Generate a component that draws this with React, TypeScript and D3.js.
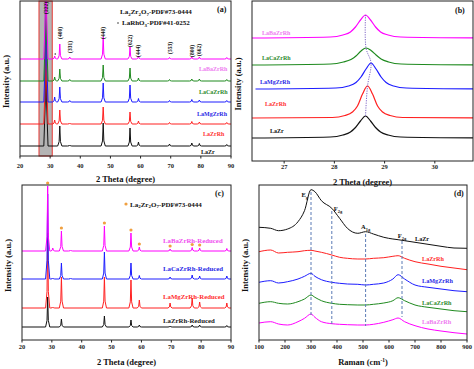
import React from 'react';
import * as d3 from 'd3';

const FONT = '"Liberation Serif", "Times New Roman", serif';

// ---- panel (a): XRD, fresh catalysts ----
const xrdPeaksA = [28.6, 31.5, 33.2, 36.5, 47.6, 56.5, 59.3, 69.6, 77.0, 79.5, 88.6];
const namesA = ['LaZr', 'LaZrRh', 'LaMgZrRh', 'LaCaZrRh', 'LaBaZrRh'];
const offsetsA = [10, 32, 54, 75, 97];
const heightsA = [
  [200, 0, 20, 1, 23, 18, 4, 2, 3, 2.5, 1.5],
  [200, 4, 14, 1, 17, 12, 3, 1.5, 2.5, 2, 1.5],
  [200, 5, 15, 1.5, 19, 17, 3.5, 1.5, 2.5, 2, 1.5],
  [200, 4, 12, 1.5, 16, 13, 3, 1.5, 2, 2, 1.5],
  [200, 3, 15, 2, 22, 12, 3, 1.5, 2, 2, 1.5],
];
const hklLabels = ['(222)', '(400)', '(331)', '(440)', '(622)', '(444)', '(553)', '(800)', '(662)'];
const hklPositions = [28.6, 33.2, 36.5, 47.6, 56.5, 59.3, 69.6, 77.0, 79.5];

// ---- panel (b): zoom on (222) ----
const namesB = ['LaZr', 'LaZrRh', 'LaMgZrRh', 'LaCaZrRh', 'LaBaZrRh'];
const centersB = [28.62, 28.66, 28.73, 28.63, 28.62];
const offsetsB = [23, 43, 72, 96, 123];
const dxB = [-2.3, -0.7, -0.45, -0.3, -0.2, -0.1, 0, 0.1, 0.2, 0.3, 0.45, 0.7, 2.3];
const profilesB = [
  [0, 1, 3, 6, 10.5, 17, 22, 17, 10.5, 6, 3, 1, 0],
  [0, 0.5, 2.5, 6, 12, 24, 32, 24, 12, 6, 2.5, 0.5, 0],
  [0, 1, 3, 6.5, 12, 20, 26, 20, 12, 6.5, 3, 1, 0],
  [0, 1, 3, 5.5, 9, 14, 17, 14.5, 10, 6, 3, 1, 0],
  [0, 1, 3, 6, 11, 18, 23, 18, 11, 6, 3, 1, 0],
];

// ---- panel (c): XRD, reduced ----
const xrdPeaksC = [28.6, 30.3, 33.2, 36.3, 47.6, 56.5, 59.3, 69.6, 77.0, 79.5, 88.6];
const namesC = ['LaZrRh-Reduced', 'LaMgZrRh-Reduced', 'LaCaZrRh-Reduced', 'LaBaZrRh-Reduced'];
const offsetsC = [13, 32, 61, 89];
const heightsC = [
  [30, 0, 8, 0, 11, 7, 2, 1, 2, 2, 1.5],
  [75, 1, 31, 0, 31, 28, 8, 5, 10, 6, 5],
  [85, 1, 16, 1, 27, 16, 3.5, 2, 4, 3, 3],
  [65, 3, 20, 1, 25, 18, 4, 2, 3.5, 3, 2.5],
];
const starPeaksC = [28.6, 33.2, 47.6, 56.5, 59.3, 69.6, 77.0, 79.5];

// ---- panel (d): Raman ----
const ramanShift = [100, 145, 175, 210, 250, 275, 300, 315, 340, 380, 410, 440, 480, 510, 540, 580, 615, 635, 660, 700, 750, 800, 850, 900];
const namesD = ['LaZr', 'LaZrRh', 'LaMgZrRh', 'LaCaZrRh', 'LaBaZrRh'];
const ramanD = [
  [112.7, 111.7, 109.3, 111, 118.3, 129.3, 150.3, 148.3, 139.3, 131.7, 121.7, 111.7, 106.7, 108.3, 106, 102.7, 101, 100.3, 99.3, 97.7, 95.7, 93.7, 92, 91.7],
  [88.3, 90, 87, 87.7, 88.3, 89.3, 89.7, 89, 87.7, 85, 82.7, 81.7, 81, 81, 81.7, 82.3, 83.7, 84.3, 81.7, 78.3, 76, 73.7, 72, 70.3],
  [57.7, 59.3, 57, 58.3, 61, 63.7, 66.7, 63.7, 60.3, 57.7, 56.7, 56, 55.7, 55, 55.7, 57, 61, 65.3, 61, 55, 52.7, 51, 49.3, 48.3],
  [36.7, 38.3, 36.7, 36, 38.3, 41, 45, 42.7, 39.3, 36.7, 35.7, 35.3, 35, 35, 35.7, 37, 39.3, 42.3, 39.3, 35, 32.7, 31, 29.3, 28.3],
  [17, 18.3, 16, 15, 18.3, 21.7, 26, 22.7, 18.3, 16.3, 15.7, 15.3, 15, 15, 15.7, 17.7, 20.3, 22, 18.3, 14.3, 11, 9, 7.3, 6],
];
const modeNames = ['E', 'F', 'A', 'F'];
const modeSubs = ['g', '2g', '1g', '2g'];
const modeShift = [300, 380, 510, 650];
const modeTop = [148, 129, 106, 99];
const modeBottom = [24, 14, 14, 23];

// styles
const lineColor: Record<string, string> = {
  LaZr: '#111111', LaZrRh: '#ff2020', LaMgZrRh: '#1c1cff', LaCaZrRh: '#1f8a1f', LaBaZrRh: '#ff00ff',
  'LaZrRh-Reduced': '#111111', 'LaMgZrRh-Reduced': '#ff2020', 'LaCaZrRh-Reduced': '#1c1cff', 'LaBaZrRh-Reduced': '#ff00ff',
};
const labelColor: Record<string, string> = {
  LaZr: '#111111', LaZrRh: '#ff3030', LaMgZrRh: '#2a2ae6', LaCaZrRh: '#2e8b2e', LaBaZrRh: '#ee7cf0',
  'LaZrRh-Reduced': '#222222', 'LaMgZrRh-Reduced': '#ff3030', 'LaCaZrRh-Reduced': '#2a2ae6', 'LaBaZrRh-Reduced': '#f050f0',
};

// layout
const A = { l: 20, r: 231, t: 1, b: 156 };
const B = { l: 252, r: 473, t: 1, b: 161 };
const C = { l: 22, r: 231, t: 185, b: 340 };
const D = { l: 259, r: 467, t: 185, b: 340 };
const labelPosA: Record<string, [number, number]> = {
  LaBaZrRh: [199, 71], LaCaZrRh: [199, 94], LaMgZrRh: [197, 116], LaZrRh: [203, 136], LaZr: [201, 154],
};
const labelPosB: Record<string, [number, number]> = {
  LaBaZrRh: [262, 35], LaCaZrRh: [262, 60], LaMgZrRh: [260, 84], LaZrRh: [265, 106], LaZr: [270, 133],
};
const labelPosC: Record<string, [number, number]> = {
  'LaBaZrRh-Reduced': [163, 243], 'LaCaZrRh-Reduced': [163, 271], 'LaMgZrRh-Reduced': [163, 299], 'LaZrRh-Reduced': [163, 323],
};
const labelPosD: Record<string, [number, number]> = {
  LaZr: [415, 241], LaZrRh: [422, 261], LaMgZrRh: [422, 283], LaCaZrRh: [422, 305], LaBaZrRh: [422, 324],
};

type Box = { l: number; r: number; t: number; b: number };

const yScaleOf = (bx: Box) => d3.scaleLinear().domain([0, bx.b - bx.t]).range([bx.b, bx.t]);

function xrdPath(x: d3.ScaleLinear<number, number>, y: d3.ScaleLinear<number, number>, offset: number, heights: number[], peaks: number[]) {
  const [x0, x1] = x.domain();
  const pts: [number, number][] = [[x0, offset]];
  peaks.forEach((p, i) => {
    const h = heights[i];
    if (h <= 0) return;
    pts.push([p - 0.7, offset], [p - 0.22, offset + h * 0.22], [p, offset + h], [p + 0.22, offset + h * 0.22], [p + 0.7, offset]);
  });
  pts.push([x1, offset]);
  return d3.line<[number, number]>().x((d) => x(d[0])).y((d) => y(d[1]))(pts) || '';
}

function Frame({ bx, x, ticks, xLabel, yLabel, tag, labelGap, xLabelY, tagX, tagY }: any) {
  return (
    <g>
      <rect x={bx.l} y={bx.t} width={bx.r - bx.l} height={bx.b - bx.t} fill="none" stroke="#222" strokeWidth={1} />
      {ticks.map((t: number) => (
        <g key={t}>
          <line x1={x(t)} x2={x(t)} y1={bx.b} y2={bx.b + 2.5} stroke="#222" strokeWidth={1} />
          <text x={x(t)} y={bx.b + labelGap} textAnchor="middle" fontSize={6.5} fontWeight="bold" fill="#222">{t}</text>
        </g>
      ))}
      <text x={(bx.l + bx.r) / 2} y={xLabelY} textAnchor="middle" fontSize={8.5} fontWeight="bold" fill="#111">{xLabel}</text>
      <text transform={`translate(${bx.l - 11},${(bx.t + bx.b) / 2 + 3}) rotate(-90)`} textAnchor="middle" fontSize={8.5} fontWeight="bold" fill="#111">{yLabel}</text>
      <text x={tagX} y={tagY} fontSize={8} fontWeight="bold" fill="#111">{tag}</text>
    </g>
  );
}

export default function App() {
  const xA = d3.scaleLinear().domain([20, 90]).range([A.l, A.r]);
  const yA = yScaleOf(A);
  const xB = d3.scaleLinear().domain([26.36, 30.76]).range([B.l, B.r]);
  const yB = yScaleOf(B);
  const xC = d3.scaleLinear().domain([20, 90]).range([C.l, C.r]);
  const yC = yScaleOf(C);
  const xD = d3.scaleLinear().domain([100, 900]).range([D.l, D.r]);
  const yD = yScaleOf(D);

  const lineB = d3.line<[number, number]>().x((d) => xB(d[0])).y((d) => yB(d[1])).curve(d3.curveMonotoneX);
  const lineD = d3.line<[number, number]>().x((d) => xD(d[0])).y((d) => yD(d[1])).curve(d3.curveMonotoneX);

  const peakTopsB: [number, number][] = [4, 3, 2, 1, 0].map((i) => [centersB[i], offsetsB[i] + d3.max(profilesB[i])!]);

  const magentaC = heightsC[3];
  const magentaOffC = offsetsC[3];

  return (
    <svg width={474} height={369} style={{ position: 'absolute', left: 0, top: 0, background: '#fff' }} fontFamily={FONT}>
      <defs>
        {[['ca', A], ['cb', B], ['cc', C], ['cd', D]].map(([id, bx]: any) => (
          <clipPath id={id} key={id}>
            <rect x={bx.l} y={bx.t} width={bx.r - bx.l} height={bx.b - bx.t} />
          </clipPath>
        ))}
      </defs>

      {/* ---------- (a) ---------- */}
      <rect x={xA(26.3)} y={A.t} width={xA(30.7) - xA(26.3)} height={A.b - A.t} fill="#b4b4b4" stroke="#e53935" strokeWidth={1} />
      <g clipPath="url(#ca)">
        {namesA.map((n, i) => (
          <path key={n} d={xrdPath(xA, yA, offsetsA[i], heightsA[i], xrdPeaksA)} fill="none" stroke={lineColor[n]} strokeWidth={1} />
        ))}
      </g>
      <circle cx={xA(31.7)} cy={yA(offsetsA[4] + 5)} r={0.8} fill="#333" />
      {hklLabels.map((s, i) => {
        const ys = [8, 33, 47, 33, 41, 51, 48, 51, 50];
        return (
          <text key={s + i} transform={`translate(${xA(hklPositions[i]) + 2},${ys[i]}) rotate(-90)`} textAnchor="middle" fontSize={5.5} fontWeight="bold" fill="#111">{s}</text>
        );
      })}
      <text x={120} y={14} fontSize={7} fontWeight="bold" fill="#111">
        La<tspan fontSize={5} dy={1.5}>2</tspan><tspan dy={-1.5}>Zr</tspan><tspan fontSize={5} dy={1.5}>2</tspan><tspan dy={-1.5}>O</tspan><tspan fontSize={5} dy={1.5}>7</tspan><tspan dy={-1.5}>-PDF#73-0444</tspan>
      </text>
      <circle cx={118} cy={23} r={0.8} fill="#333" />
      <text x={122} y={25} fontSize={7} fontWeight="bold" fill="#111">
        LaRhO<tspan fontSize={5} dy={1.5}>3</tspan><tspan dy={-1.5}>-PDF#41-0252</tspan>
      </text>
      {namesA.map((n) => (
        <text key={n} x={labelPosA[n][0]} y={labelPosA[n][1]} fontSize={6} fontWeight="bold" fill={labelColor[n]}>{n}</text>
      ))}
      <Frame bx={A} x={xA} ticks={d3.range(20, 91, 10)} xLabel="2 Theta (degree)" yLabel="Intensity (a.u.)" tag="(a)" labelGap={11.5} xLabelY={182} tagX={217} tagY={12} />

      {/* ---------- (b) ---------- */}
      <g clipPath="url(#cb)">
        {namesB.map((n, i) => (
          <path key={n} d={lineB(dxB.map((dx, j) => [centersB[i] + dx, offsetsB[i] + profilesB[i][j]] as [number, number])) || ''} fill="none" stroke={lineColor[n]} strokeWidth={1.2} />
        ))}
        <path d={d3.line<[number, number]>().x((d) => xB(d[0])).y((d) => yB(d[1])).curve(d3.curveCatmullRom)(peakTopsB) || ''} fill="none" stroke="#7056c0" strokeWidth={0.9} strokeDasharray="1.2,1.2" />
      </g>
      {namesB.map((n) => (
        <text key={n} x={labelPosB[n][0]} y={labelPosB[n][1]} fontSize={6} fontWeight="bold" fill={labelColor[n]}>{n}</text>
      ))}
      <Frame bx={B} x={xB} ticks={[27, 28, 29, 30]} xLabel="2 Theta (degree)" yLabel="Intensity (a.u.)" tag="(b)" labelGap={8} xLabelY={185} tagX={455} tagY={13} />

      {/* ---------- (c) ---------- */}
      <g clipPath="url(#cc)">
        {namesC.map((n, i) => (
          <path key={n} d={xrdPath(xC, yC, offsetsC[i], heightsC[i], xrdPeaksC)} fill="none" stroke={lineColor[n]} strokeWidth={1} />
        ))}
      </g>
      {starPeaksC.map((p) => {
        const h = magentaC[xrdPeaksC.indexOf(p)];
        return <circle key={p} cx={xC(p)} cy={yC(magentaOffC + h) - 3} r={1.6} fill="#f0a040" />;
      })}
      <circle cx={126} cy={204} r={1.6} fill="#f0a040" />
      <text x={130} y={206.5} fontSize={7} fontWeight="bold" fill="#111">
        La<tspan fontSize={5} dy={1.5}>2</tspan><tspan dy={-1.5}>Zr</tspan><tspan fontSize={5} dy={1.5}>2</tspan><tspan dy={-1.5}>O</tspan><tspan fontSize={5} dy={1.5}>7</tspan><tspan dy={-1.5}>-PDF#73-0444</tspan>
      </text>
      {namesC.map((n) => (
        <text key={n} x={labelPosC[n][0]} y={labelPosC[n][1]} fontSize={6.8} fontWeight="bold" fill={labelColor[n]}>{n}</text>
      ))}
      <Frame bx={C} x={xC} ticks={d3.range(20, 91, 10)} xLabel="2 Theta (degree)" yLabel="Intensity (a.u.)" tag="(c)" labelGap={8.5} xLabelY={365} tagX={215} tagY={196} />

      {/* ---------- (d) ---------- */}
      <g clipPath="url(#cd)">
        {namesD.map((n, i) => (
          <path key={n} d={lineD(ramanShift.map((v, j) => [v, ramanD[i][j]] as [number, number])) || ''} fill="none" stroke={lineColor[n]} strokeWidth={1} />
        ))}
      </g>
      {modeShift.map((v, i) => (
        <line key={i} x1={xD(v)} x2={xD(v)} y1={yD(modeTop[i])} y2={yD(modeBottom[i])} stroke="#5b7bb5" strokeWidth={1} strokeDasharray="3,2" />
      ))}
      {modeShift.map((v, i) => {
        const anchor = ['end', 'start', 'middle', 'middle'][i];
        const dx = [-3, 2, 0, 0][i];
        const dy = [5, 0, -5, -3][i];
        return (
          <text key={i} x={xD(v) + dx} y={yD(modeTop[i]) + dy} textAnchor={anchor} fontSize={6.5} fontWeight="bold" fill="#111">
            {modeNames[i]}<tspan fontSize={4.5} dy={1.5}>{modeSubs[i]}</tspan>
          </text>
        );
      })}
      {namesD.map((n) => (
        <text key={n} x={labelPosD[n][0]} y={labelPosD[n][1]} fontSize={6.2} fontWeight="bold" fill={labelColor[n]}>{n}</text>
      ))}
      <Frame bx={D} x={xD} ticks={d3.range(100, 901, 100)} xLabel="" yLabel="Intensity (a.u.)" tag="(d)" labelGap={8.5} xLabelY={365} tagX={454} tagY={196} />
      <text x={(D.l + D.r) / 2} y={365} textAnchor="middle" fontSize={8.5} fontWeight="bold" fill="#111">
        Raman (cm<tspan fontSize={5.5} dy={-3}>-1</tspan><tspan dy={3}>)</tspan>
      </text>
    </svg>
  );
}
